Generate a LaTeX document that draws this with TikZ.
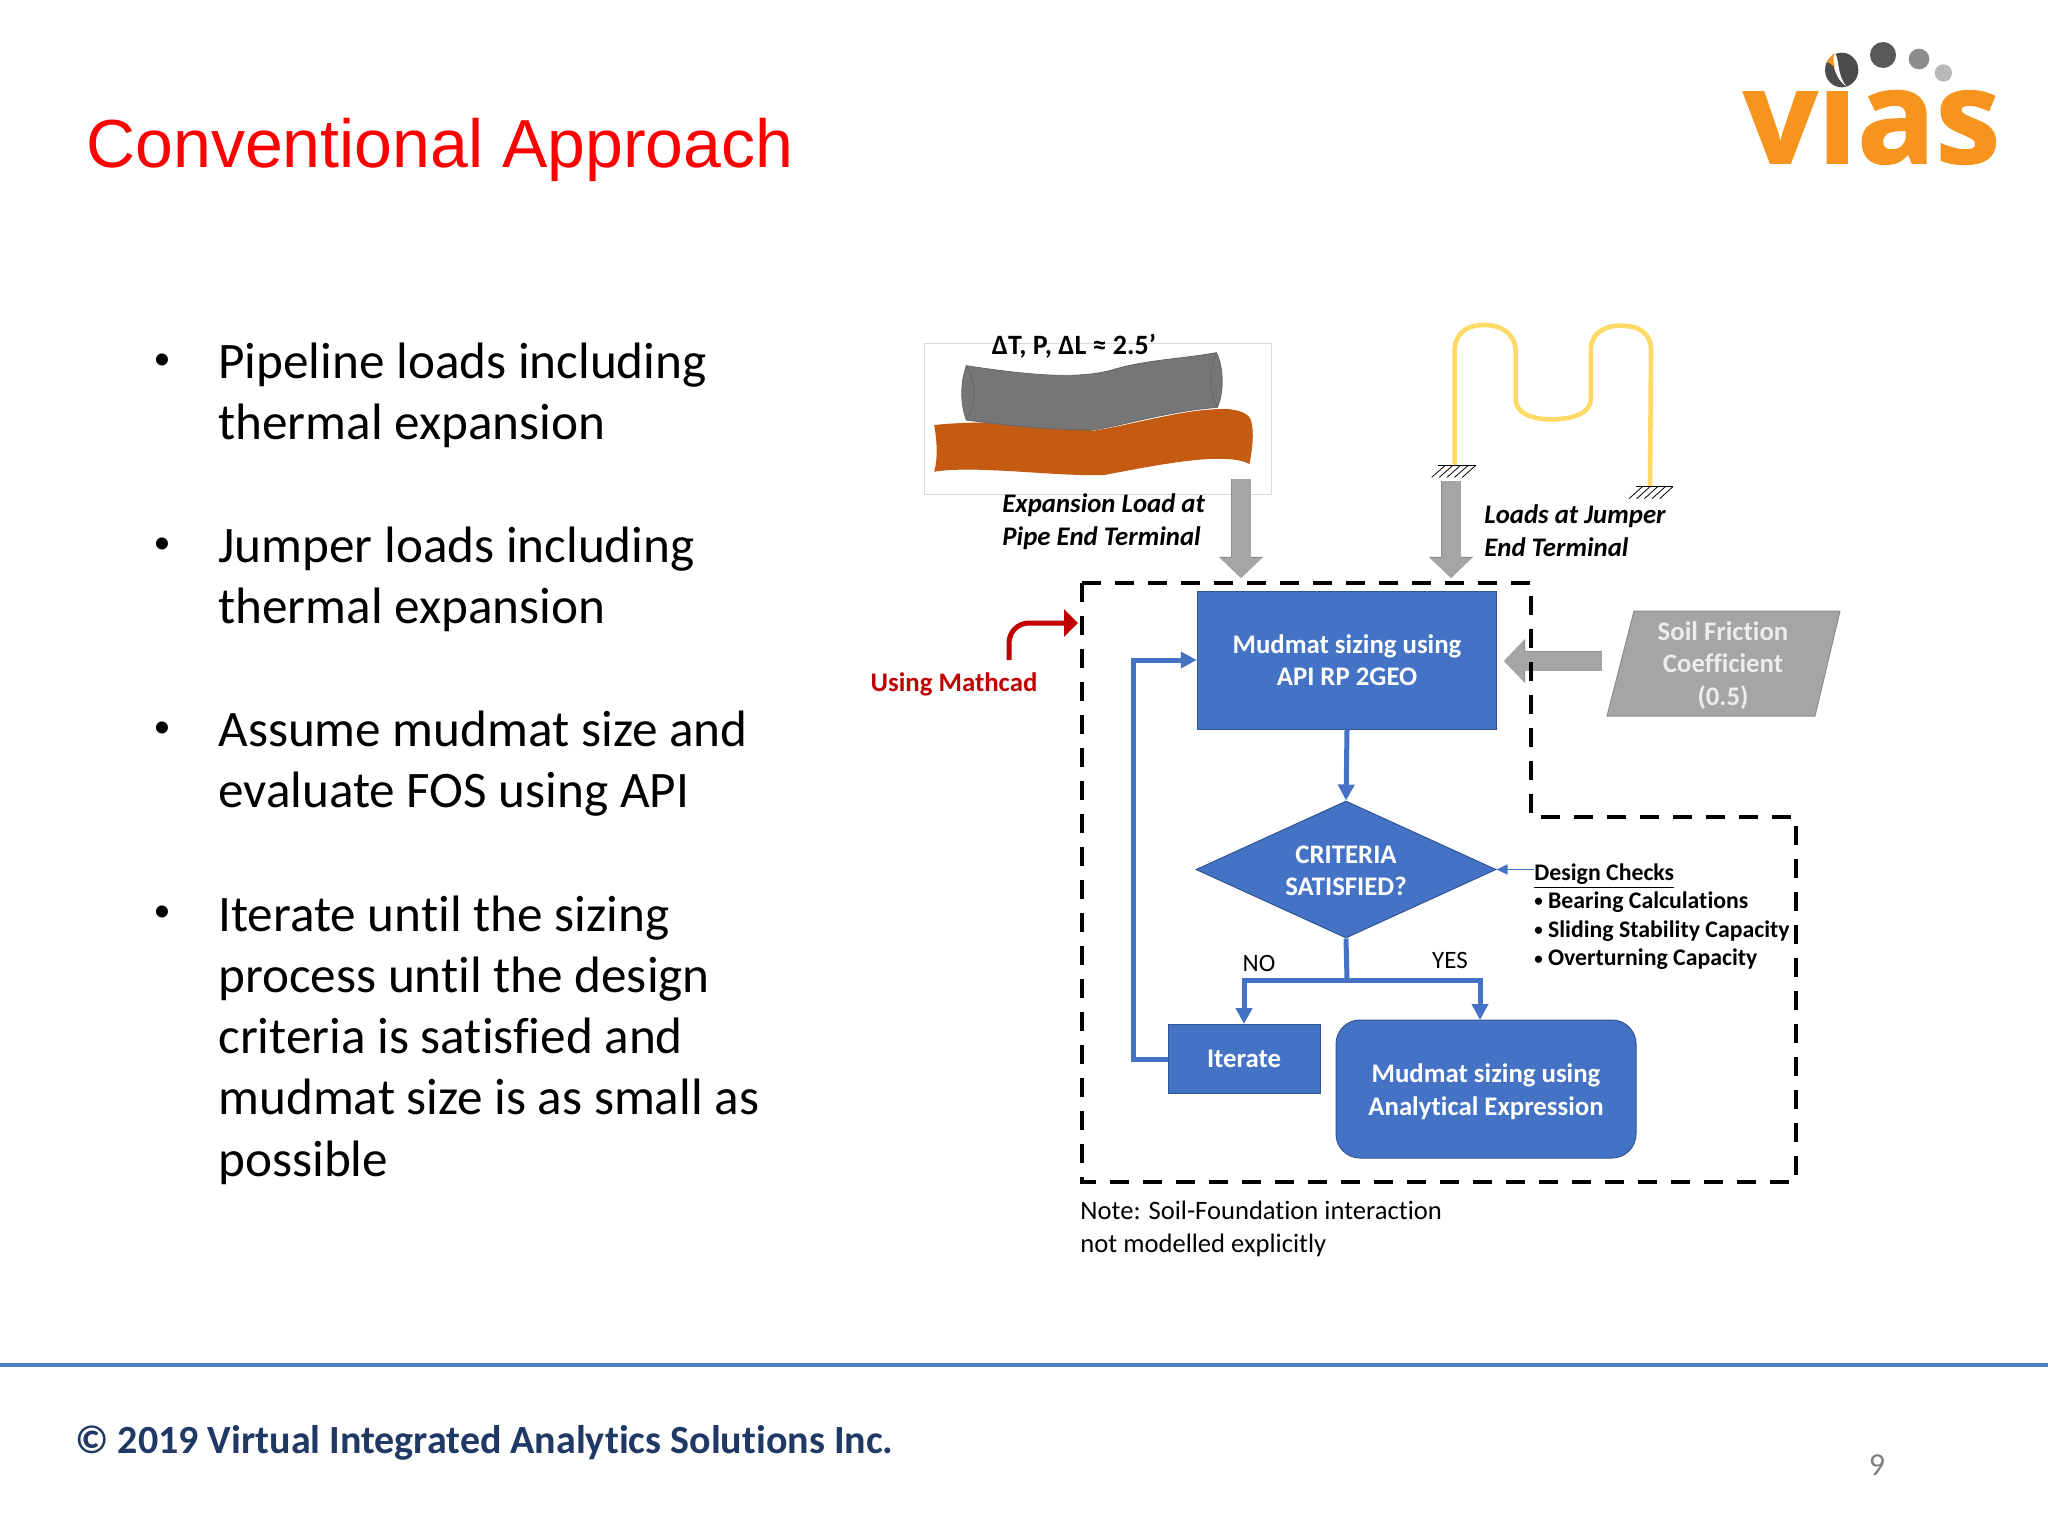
\documentclass[tikz,border=0pt]{standalone}
\usepackage{fontspec}
\setmainfont{Carlito}[Ligatures={NoCommon}]
\newfontfamily\arialfont{Liberation Sans}
\newfontfamily\logofont{Open Sans}[BoldFeatures={FakeBold=1.3}]
\usetikzlibrary{arrows.meta,shapes.geometric}
\definecolor{flowblue}{HTML}{4472C4}
\definecolor{flowedge}{HTML}{2F5597}
\definecolor{blockgray}{HTML}{A5A5A5}
\definecolor{blockedge}{HTML}{8C8C8C}
\definecolor{pipegray}{HTML}{767676}
\definecolor{soilorange}{HTML}{C55A11}
\definecolor{jumpergold}{HTML}{FFD966}
\definecolor{markred}{HTML}{C00000}
\definecolor{footnavy}{HTML}{1F3864}
\definecolor{footline}{HTML}{4F81BD}
\definecolor{logoorange}{HTML}{F7941D}
\tikzset{
  bullettext/.style={anchor=west,align=left,inner sep=0pt,font=\fontsize{25.6}{30.6}\selectfont,text=black},
  blockwhite/.style={inner sep=0pt,align=center,text=white,font=\fontsize{13.4}{16.3}\selectfont\bfseries},
  blocknode/.style={blockwhite,draw=flowedge,line width=0.5pt,fill=flowblue},
  flowline/.style={draw=flowblue,line width=2.5pt},
  flowarrow/.style={flowline,-{Triangle[length=8pt,width=8pt]}},
  grayarrow/.style={draw=blockgray,line width=9.5pt,-{Triangle[length=10pt,width=20pt]},
    preaction={draw=blockedge,line width=10.3pt,-{Triangle[length=10.6pt,width=21.6pt]}}},
  dashedframe/.style={draw=black,line width=2pt,dash pattern=on 9.5pt off 7pt},
  smalllabel/.style={inner sep=0pt,align=left,font=\fontsize{13.4}{16.3}\selectfont},
  boldlabel/.style={smalllabel,font=\fontsize{13.4}{16}\selectfont\bfseries},
  italiclabel/.style={smalllabel,font=\fontsize{13.4}{16.4}\selectfont\bfseries\itshape},
  zoomone/.style={shift={(900,300)},x=0.2551pt,y=-0.16667pt},
  logozoom/.style={shift={(1700,20)},x=0.16667pt,y=-0.16667pt},
}
\newcommand{\tinybul}{{\fontsize{8.5}{10}\selectfont\raisebox{0.9pt}{•}}\hspace{2.6pt}}
\begin{document}
\begin{tikzpicture}[x=0.5pt,y=-0.5pt]
\useasboundingbox (0,0) rectangle (2048,1536);
\fill[white] (0,0) rectangle (2048,1536);

% title
\node[inner sep=0pt,anchor=base west,text=red,font=\fontsize{34}{40}\selectfont\arialfont] (title) at (86,167) {Conventional Approach};

% logo
\node[inner sep=0pt,anchor=base west,text=logoorange,font=\fontsize{65}{70}\selectfont\logofont\bfseries] (logo) at (1743,163) {vias};
\begin{scope}[logozoom]
  \fill[white] (425,150) ellipse [x radius=55,y radius=60];
  \fill[black!70] (425,150) ellipse [x radius=50,y radius=52];
  \fill[white] (405,100) .. controls (420,125) and (410,165) .. (440,200) .. controls (405,175) and (400,140) .. (395,100) -- cycle;
  \fill[logoorange] (380,125) .. controls (390,115) and (395,105) .. (404,98) .. controls (398,115) and (400,130) .. (405,142) .. controls (395,135) and (388,128) .. (380,125) -- cycle;
  \fill[black!65] (549,105) circle [radius=39];
  \fill[black!45] (657,117) circle [radius=31];
  \fill[black!28] (730,159) circle [radius=26];
\end{scope}

% bullets
\foreach \yy in {362,546,730,914} \node[inner sep=0pt,font=\fontsize{17}{20}\selectfont] at (162,\yy) {•};
\node[bullettext] (b1) at (218,395) {Pipeline loads including\\thermal expansion};
\node[bullettext] (b2) at (218,579) {Jumper loads including\\thermal expansion};
\node[bullettext] (b3) at (218,764) {Assume mudmat size and\\evaluate FOS using API};
\node[bullettext] (b4) at (218,1040) {Iterate until the sizing\\process until the design\\criteria is satisfied and\\mudmat size is as small as\\possible};

% pipe panel
\draw[black!15,line width=0.5pt] (924,343) rectangle (1271,494);
\begin{scope}[zoomone]
  \fill[soilorange] (67,375) .. controls (150,362) and (260,365) .. (380,392)
     .. controls (470,370) and (560,325) .. (640,327)
     .. controls (670,330) and (685,345) .. (688,360)
     .. controls (695,400) and (690,450) .. (685,492)
     .. controls (640,455) and (520,490) .. (400,525)
     .. controls (300,530) and (150,495) .. (67,515)
     .. controls (75,470) and (72,420) .. (67,375) -- cycle;
  \draw[black!60,fill=pipegray,line width=0.4pt] (130,197)
     .. controls (250,225) and (350,240) .. (420,208)
     .. controls (480,180) and (560,175) .. (620,158)
     .. controls (635,200) and (635,280) .. (622,322)
     .. controls (520,335) and (440,375) .. (380,390)
     .. controls (290,390) and (200,375) .. (130,360)
     .. controls (118,310) and (118,250) .. (130,197) -- cycle;
  \draw[black!60,line width=0.4pt] (130,197) .. controls (150,250) and (150,310) .. (130,360);
  \draw[black!60,line width=0.4pt] (620,158) .. controls (605,210) and (605,270) .. (622,322);
  % jumper
  \draw[jumpergold,line width=2.3pt] (1087,495) -- (1087,155)
     .. controls (1087,100) and (1110,75) .. (1145,75)
     .. controls (1180,75) and (1205,100) .. (1207,155) -- (1207,300)
     .. controls (1207,340) and (1240,358) .. (1275,358)
     .. controls (1320,358) and (1352,340) .. (1354,300) -- (1354,150)
     .. controls (1354,100) and (1380,77) .. (1412,77)
     .. controls (1450,77) and (1472,100) .. (1472,150) -- (1470,558);
  % supports
  \draw[black,line width=0.5pt] (1055,497) -- (1128,497);
  \foreach \xx in {0,1,2,3,4} \draw[black,line width=0.4pt] (1068+15*\xx,497) -- (1042+15*\xx,532);
  \draw[black,line width=0.5pt] (1442,560) -- (1515,560);
  \foreach \xx in {0,1,2,3,4} \draw[black,line width=0.4pt] (1455+15*\xx,560) -- (1429+15*\xx,596);
\end{scope}

\node[boldlabel,font=\fontsize{14}{16}\selectfont\bfseries] (dt) at (1074,346) {ΔT, P, ΔL ≈ 2.5’};
\node[italiclabel,anchor=west] (explabel) at (1002,521.5) {Expansion Load at\\Pipe End Terminal};
\node[italiclabel,anchor=west] (juplabel) at (1484,531) {Loads at Jumper\\End Terminal};

% flow nodes
\node[blocknode,minimum width=149.75pt,minimum height=69pt] (box1) at (1347,660) {Mudmat sizing using\\API RP 2GEO};
\node[blocknode,diamond,aspect=2.19,minimum width=150pt,minimum height=68.5pt] (crit) at (1346,869.5) {\rule{0pt}{10pt}CRITERIA\\SATISFIED?};
\node[blocknode,minimum width=76pt,minimum height=34.5pt] (iter) at (1244,1059) {Iterate};
\node[blocknode,rounded corners=12pt,minimum width=150pt,minimum height=69pt] (ana) at (1486,1089) {\rule{0pt}{12pt}Mudmat sizing using\\Analytical Expression};

% soil parallelogram
\draw[draw=blockedge,fill=blockgray,line width=0.5pt] (1634,611) -- (1840,611) -- (1815,716) -- (1607,716) -- cycle;
\node[blockwhite,text=white!93!black] (soil) at (1723,665.5) {Soil Friction\\Coefficient\\(0.5)};

% incoming block arrows
\coordinate (exptop) at (1241,479);
\coordinate (exptip) at (1241,578);
\coordinate (juptop) at (1451,481);
\coordinate (juptip) at (1451,578);
\coordinate (soilout) at (1602,661);
\coordinate (soiltip) at (1504,661);
\draw[grayarrow] (exptop) -- (exptip);
\draw[grayarrow] (juptop) -- (juptip);
\draw[grayarrow] (soilout) -- (soiltip);

% dashed frame
\draw[dashedframe] (1082,583) -- (1531,583) -- (1531,817) -- (1796,817) -- (1796,1182) -- (1082,1182) -- cycle;

% connectors
\coordinate (branch) at (1347,980);
\coordinate (yesin) at (1480,1020);
\draw[flowarrow] (box1.south) -- (crit.north);
\draw[flowline] (crit.south) -- (branch);
\draw[flowarrow] (branch) -| (iter.north);
\draw[flowarrow] (branch) -| (yesin);
\draw[flowarrow] (iter.west) -- ++(-34,0) |- (box1.west);

% mathcad
\node[boldlabel,text=markred] (mathcad) at (954,684) {Using Mathcad};
\coordinate (mcstart) at (1009,660);
\coordinate (mcend) at (1078,623);
\draw[markred,line width=2.5pt,rounded corners=10pt,-{Triangle[length=7pt,width=13.5pt]}] (mcstart) |- (mcend);

% labels
\node[inner sep=0pt,anchor=center,font=\fontsize{12.5}{14}\selectfont] (no) at (1259,963) {NO};
\node[inner sep=0pt,anchor=center,font=\fontsize{12.5}{14}\selectfont] (yes) at (1450,960) {YES};
\node[inner sep=0pt,anchor=west,font=\fontsize{11.9}{14}\selectfont\bfseries] (dchecks) at (1534,876) {\underline{Design Checks}};
\draw[draw=flowblue,line width=0.6pt,-{Triangle[length=5.5pt,width=5pt]}] (dchecks.west |- crit.east) -- (crit.east);
\node[inner sep=0pt,anchor=west,align=left,font=\fontsize{11.9}{14.3}\selectfont\bfseries] (checks) at (1534,931) {\tinybul Bearing Calculations\\\tinybul Sliding Stability Capacity\\\tinybul Overturning Capacity};
\node[inner sep=0pt,anchor=west,align=left,font=\fontsize{13.3}{16.3}\selectfont] (note) at (1080,1229) {Note: Soil-Foundation interaction\\not modelled explicitly};

% footer
\coordinate (fl) at (0,1365);
\coordinate (fr) at (2048,1365);
\draw[footline,line width=1.8pt] (fl) -- (fr);
\node[inner sep=0pt,anchor=west,text=footnavy,font=\fontsize{20}{24}\selectfont\bfseries] (foot) at (75,1443) {© 2019 Virtual Integrated Analytics Solutions Inc.};
\node[inner sep=0pt,text=black!50,font=\fontsize{16}{20}\selectfont] (page) at (1877,1465) {9};
\end{tikzpicture}
\end{document}
